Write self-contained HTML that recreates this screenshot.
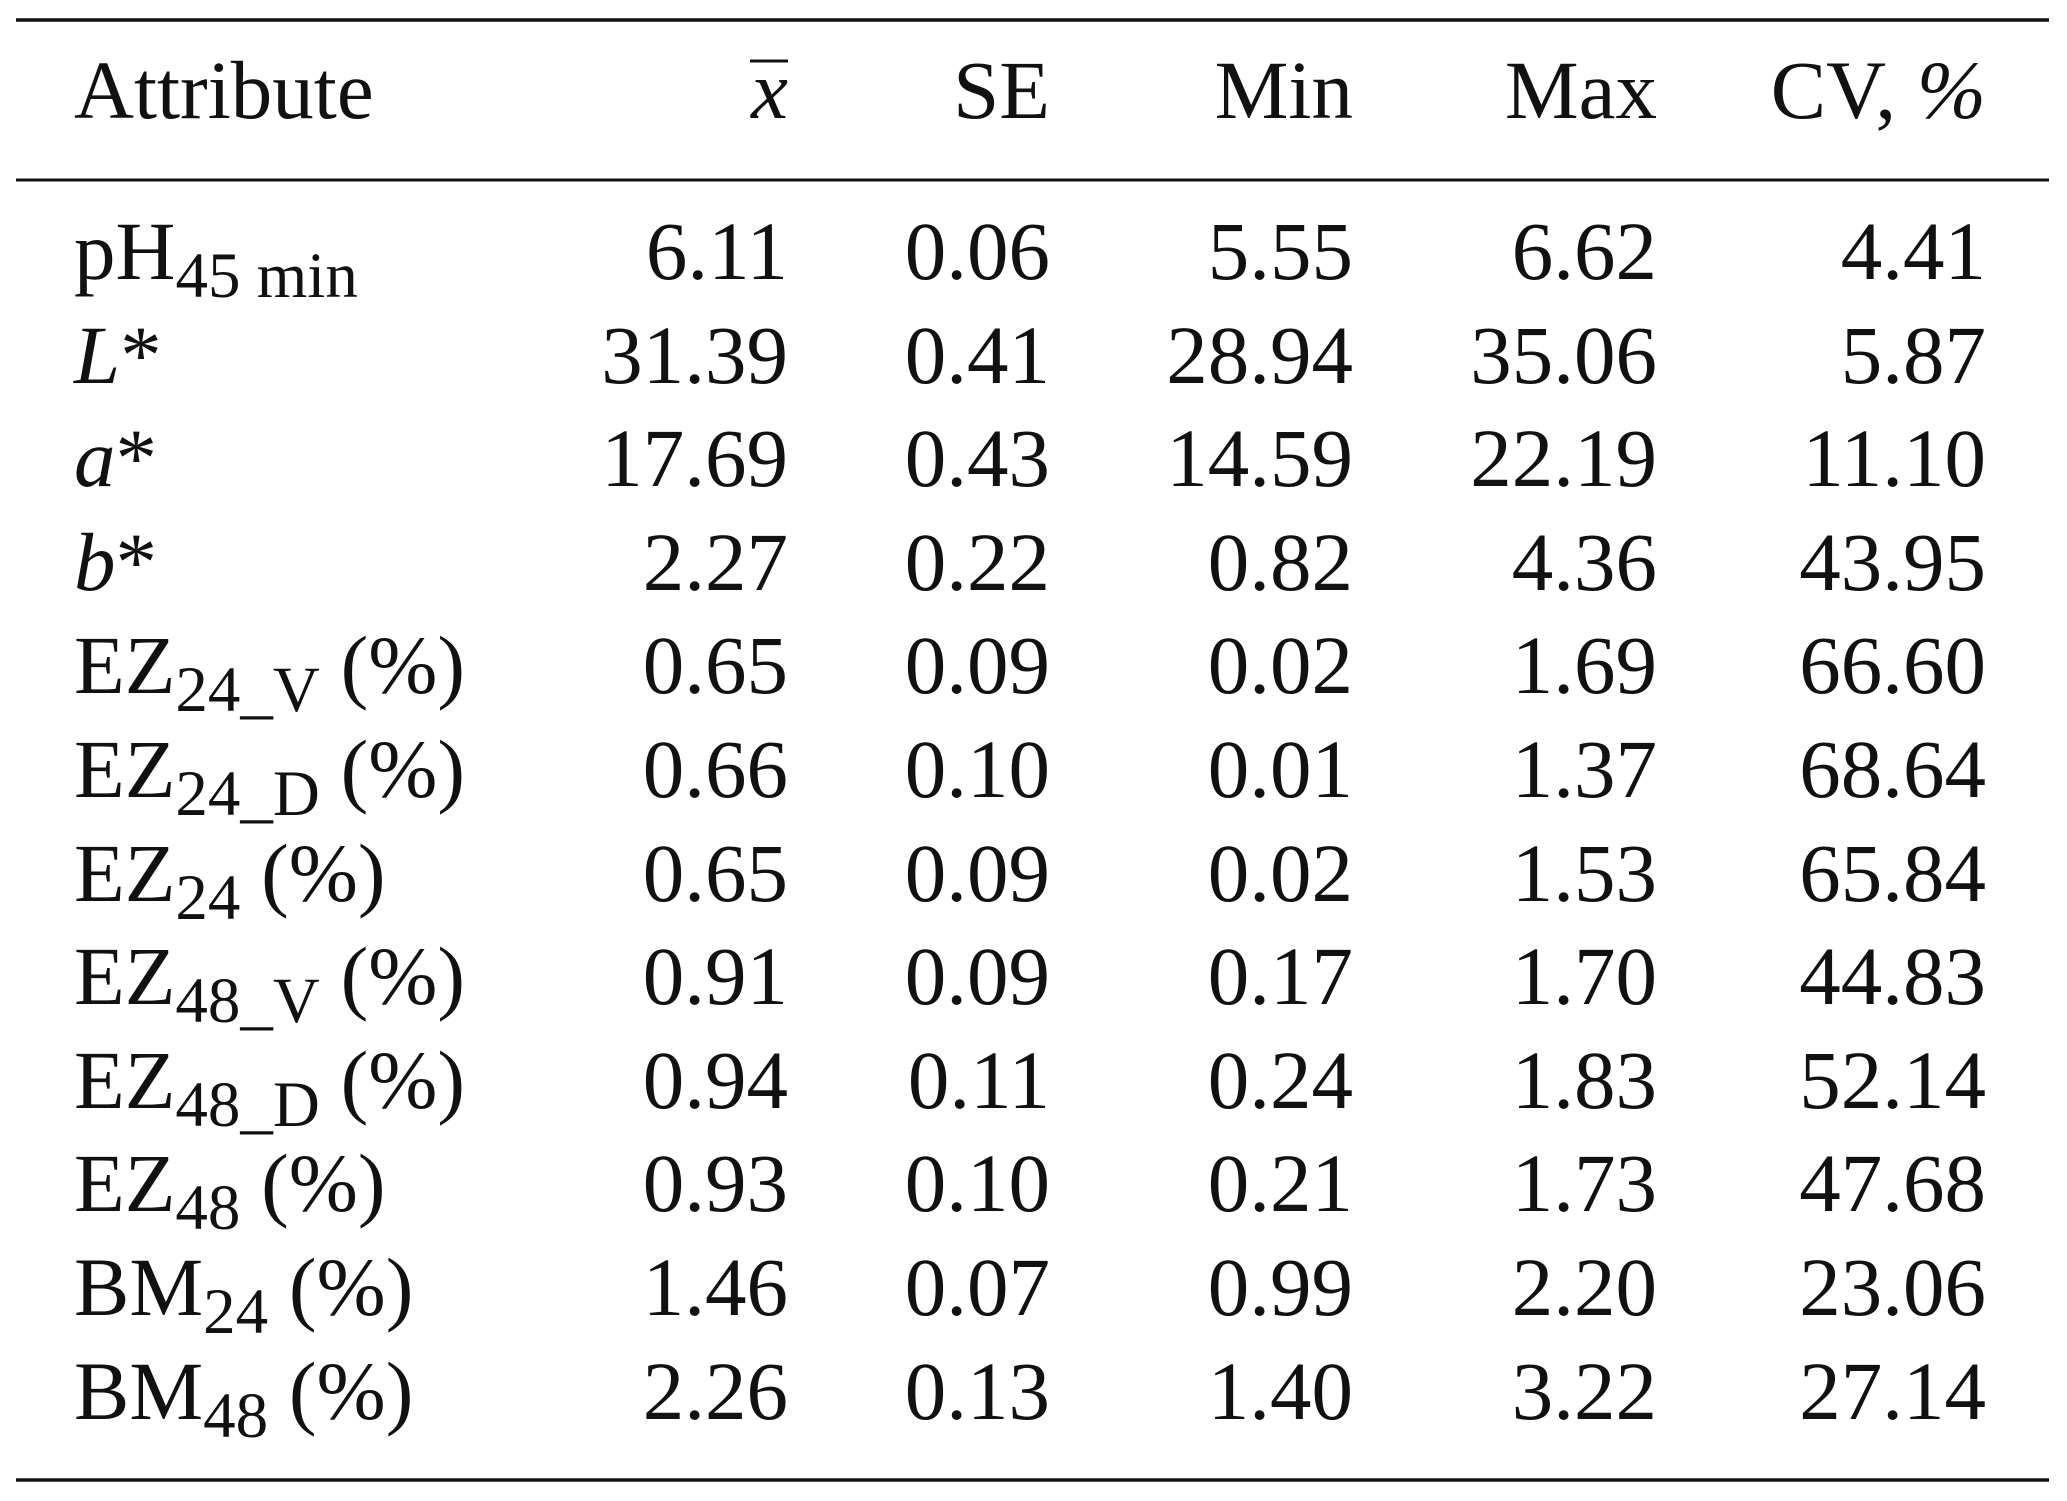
<!DOCTYPE html>
<html><head><meta charset="utf-8"><style>
html,body{margin:0;padding:0;background:#fff;}
svg{display:block;}
text{font-family:"Liberation Serif",serif;font-size:83px;fill:#111;}
.r{text-anchor:end;}
.s{font-size:65px;}
</style></head><body>
<svg width="2067" height="1501" viewBox="0 0 2067 1501" xmlns="http://www.w3.org/2000/svg">
<rect width="2067" height="1501" fill="#fff"/>
<line x1="16" y1="20" x2="2049" y2="20" stroke="#111" stroke-width="3.5"/>
<line x1="16" y1="180" x2="2049" y2="180" stroke="#111" stroke-width="3"/>
<line x1="16" y1="1480" x2="2049" y2="1480" stroke="#111" stroke-width="3.5"/>
<text x="74" y="118">Attribute</text>
<text x="788" y="118" class="r" font-style="italic">x</text>
<line x1="750" y1="61" x2="788" y2="61" stroke="#111" stroke-width="3"/>
<text x="1050" y="118" class="r">SE</text>
<text x="1353" y="118" class="r">Min</text>
<text x="1657" y="118" class="r">Max</text>
<text x="1986" y="118" class="r">CV, <tspan font-style="italic">%</tspan></text>

<text x="74" y="279">pH<tspan class="s" dy="18">45 min</tspan></text>
<text x="74" y="383" font-style="italic">L<tspan font-style="normal">*</tspan></text>
<text x="74" y="486" font-style="italic">a<tspan font-style="normal">*</tspan></text>
<text x="74" y="590" font-style="italic">b<tspan font-style="normal">*</tspan></text>
<text x="74" y="693">EZ<tspan class="s" dy="18">24_V</tspan><tspan dy="-18"> (%)</tspan></text>
<text x="74" y="797">EZ<tspan class="s" dy="18">24_D</tspan><tspan dy="-18"> (%)</tspan></text>
<text x="74" y="901">EZ<tspan class="s" dy="18">24</tspan><tspan dy="-18"> (%)</tspan></text>
<text x="74" y="1004">EZ<tspan class="s" dy="18">48_V</tspan><tspan dy="-18"> (%)</tspan></text>
<text x="74" y="1108">EZ<tspan class="s" dy="18">48_D</tspan><tspan dy="-18"> (%)</tspan></text>
<text x="74" y="1211">EZ<tspan class="s" dy="18">48</tspan><tspan dy="-18"> (%)</tspan></text>
<text x="74" y="1315">BM<tspan class="s" dy="18">24</tspan><tspan dy="-18"> (%)</tspan></text>
<text x="74" y="1419">BM<tspan class="s" dy="18">48</tspan><tspan dy="-18"> (%)</tspan></text>

<text class="r" x="788" y="279">6.11</text><text class="r" x="1050" y="279">0.06</text><text class="r" x="1353" y="279">5.55</text><text class="r" x="1657" y="279">6.62</text><text class="r" x="1986" y="279">4.41</text>
<text class="r" x="788" y="383">31.39</text><text class="r" x="1050" y="383">0.41</text><text class="r" x="1353" y="383">28.94</text><text class="r" x="1657" y="383">35.06</text><text class="r" x="1986" y="383">5.87</text>
<text class="r" x="788" y="486">17.69</text><text class="r" x="1050" y="486">0.43</text><text class="r" x="1353" y="486">14.59</text><text class="r" x="1657" y="486">22.19</text><text class="r" x="1986" y="486">11.10</text>
<text class="r" x="788" y="590">2.27</text><text class="r" x="1050" y="590">0.22</text><text class="r" x="1353" y="590">0.82</text><text class="r" x="1657" y="590">4.36</text><text class="r" x="1986" y="590">43.95</text>
<text class="r" x="788" y="693">0.65</text><text class="r" x="1050" y="693">0.09</text><text class="r" x="1353" y="693">0.02</text><text class="r" x="1657" y="693">1.69</text><text class="r" x="1986" y="693">66.60</text>
<text class="r" x="788" y="797">0.66</text><text class="r" x="1050" y="797">0.10</text><text class="r" x="1353" y="797">0.01</text><text class="r" x="1657" y="797">1.37</text><text class="r" x="1986" y="797">68.64</text>
<text class="r" x="788" y="901">0.65</text><text class="r" x="1050" y="901">0.09</text><text class="r" x="1353" y="901">0.02</text><text class="r" x="1657" y="901">1.53</text><text class="r" x="1986" y="901">65.84</text>
<text class="r" x="788" y="1004">0.91</text><text class="r" x="1050" y="1004">0.09</text><text class="r" x="1353" y="1004">0.17</text><text class="r" x="1657" y="1004">1.70</text><text class="r" x="1986" y="1004">44.83</text>
<text class="r" x="788" y="1108">0.94</text><text class="r" x="1050" y="1108">0.11</text><text class="r" x="1353" y="1108">0.24</text><text class="r" x="1657" y="1108">1.83</text><text class="r" x="1986" y="1108">52.14</text>
<text class="r" x="788" y="1211">0.93</text><text class="r" x="1050" y="1211">0.10</text><text class="r" x="1353" y="1211">0.21</text><text class="r" x="1657" y="1211">1.73</text><text class="r" x="1986" y="1211">47.68</text>
<text class="r" x="788" y="1315">1.46</text><text class="r" x="1050" y="1315">0.07</text><text class="r" x="1353" y="1315">0.99</text><text class="r" x="1657" y="1315">2.20</text><text class="r" x="1986" y="1315">23.06</text>
<text class="r" x="788" y="1419">2.26</text><text class="r" x="1050" y="1419">0.13</text><text class="r" x="1353" y="1419">1.40</text><text class="r" x="1657" y="1419">3.22</text><text class="r" x="1986" y="1419">27.14</text>
</svg>
</body></html>
